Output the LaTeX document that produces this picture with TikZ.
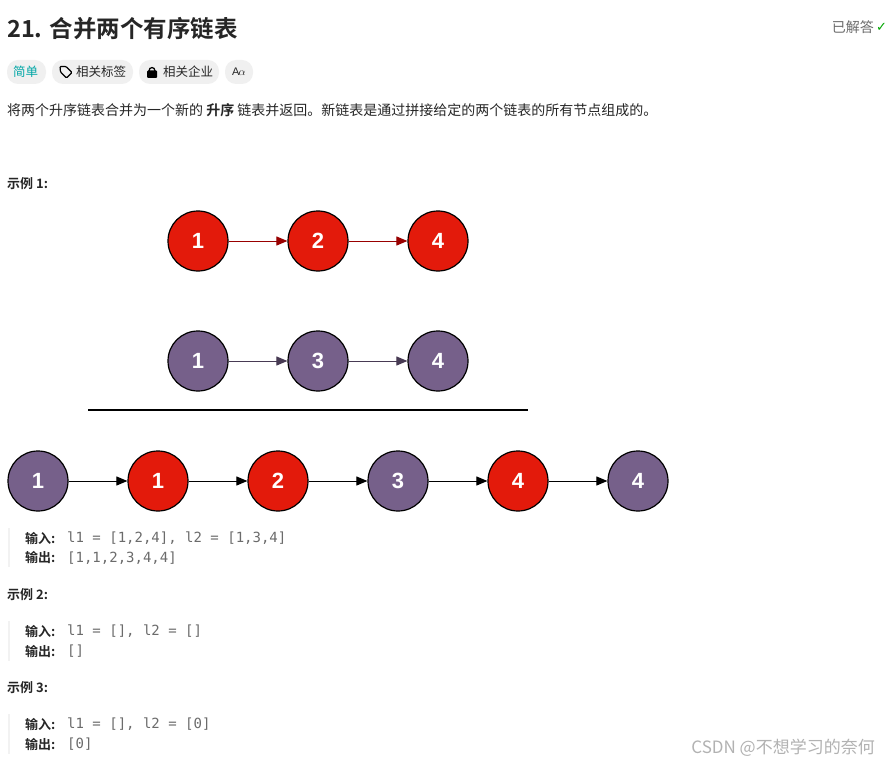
\documentclass[tikz,border=0pt]{standalone}
\usepackage{fontspec}
\setmainfont{Liberation Sans}
\newfontfamily\cjk{Noto Sans CJK SC}
\newfontfamily\cjkb{Noto Sans CJK SC Bold}
\setmonofont{DejaVu Sans Mono}
\newfontfamily\symf{DejaVu Sans}
\usetikzlibrary{arrows.meta}
\definecolor{lred}{HTML}{E31A0B}
\definecolor{lpur}{HTML}{76608A}
\definecolor{txt}{HTML}{262626}
\definecolor{codeg}{HTML}{6B6B6B}
\definecolor{pill}{HTML}{F0F0F0}
\tikzset{
 ln/.style={circle,draw=black,line width=1.2pt,minimum size=60pt,inner sep=0pt,font=\bfseries\fontsize{22}{22}\selectfont,text=white},
 rn/.style={ln,fill=lred},
 pn/.style={ln,fill=lpur},
 ar/.style={-{Triangle[length=11pt,width=9pt]},line width=1pt},
 tx/.style={anchor=west,inner sep=0pt,font=\cjk\fontsize{12.5}{14}\selectfont,text=txt},
 bt/.style={anchor=west,inner sep=0pt,font=\cjkb\fontsize{13}{14}\selectfont,text=txt},
 cd/.style={anchor=west,inner sep=0pt,font=\ttfamily\fontsize{14}{14}\selectfont,text=codeg},
 pl/.style={rounded corners=11pt,fill=pill,draw=none},
 bar/.style={draw=pill!80!black!20,line width=2.5pt}
}
\begin{document}
\begin{tikzpicture}[x=1pt,y=-1pt]
\useasboundingbox[fill=white] (0,0) rectangle (890,767);
\node[anchor=west,inner sep=0pt,font=\cjkb\fontsize{23.5}{24}\selectfont,text=txt] (title) at (7,29) {21. 合并两个有序链表};
\node[anchor=east,inner sep=0pt,font=\cjk\fontsize{14}{14}\selectfont,text=codeg] (solved) at (874,27) {已解答};
\node[anchor=west,inner sep=0pt,font=\symf\fontsize{13}{14}\selectfont,text=green!65!black] (chk) at (876,27) {✓};
% pills
\fill[pl] (7,60) rectangle (46,84);
\node[tx,text=teal!70!cyan] (p1) at (13,72) {简单};
\fill[pl] (52,60) rectangle (133,84);
\draw[line width=1.2pt,rounded corners=1pt] (60,66.5) -- (66,66.5) -- (72,72.5) -- (66.5,78) -- (60.5,72) -- cycle;
\node[tx] (p2) at (76,72) {相关标签};
\fill[pl] (139,60) rectangle (219,84);
\draw[line width=1.3pt] (149,71) arc (180:360:3 and 3.5);
\fill[rounded corners=1pt] (147,70.5) rectangle (157,78);
\node[tx] (p3) at (163,72) {相关企业};
\fill[pl] (225,60) rectangle (253,84);
\node[tx,font=\fontsize{11}{12}\selectfont] (p4) at (232,72) {A\kern-1pt$\alpha$};
\node[tx,font=\cjk\fontsize{14}{14}\selectfont] (desc) at (7,110) {将两个升序链表合并为一个新的 {\cjkb 升序} 链表并返回。新链表是通过拼接给定的两个链表的所有节点组成的。};
\node[bt] (ex1) at (7,184) {示例 1:};
% diagram
\node[rn] (a1) at (198,241) {1};
\node[rn] (a2) at (318,241) {2};
\node[rn] (a4) at (438,241) {4};
\draw[ar,draw=red!60!black,fill=red!60!black] (a1) -- (a2);
\draw[ar,draw=red!60!black,fill=red!60!black] (a2) -- (a4);
\node[pn] (b1) at (198,361) {1};
\node[pn] (b3) at (318,361) {3};
\node[pn] (b4) at (438,361) {4};
\draw[ar,draw=lpur!60!black] (b1) -- (b3);
\draw[ar,draw=lpur!60!black] (b3) -- (b4);
\coordinate (l0) at (88,410); \coordinate (l1) at (528,410);
\draw[line width=1.5pt] (l0) -- (l1);
\node[pn] (c1) at (38,481) {1};
\node[rn] (c2) at (158,481) {1};
\node[rn] (c3) at (278,481) {2};
\node[pn] (c4) at (398,481) {3};
\node[rn] (c5) at (518,481) {4};
\node[pn] (c6) at (638,481) {4};
\foreach \u/\v in {c1/c2,c2/c3,c3/c4,c4/c5,c5/c6}{\draw[ar] (\u) -- (\v);}
% examples
\coordinate (e1a) at (9,528); \coordinate (e1b) at (9,567);
\draw[bar] (e1a) -- (e1b);
\node[bt] (i1) at (25,538) {输入:};
\node[cd] (i1c) at (67,538) {l1 = [1,2,4], l2 = [1,3,4]};
\node[bt] (o1) at (25,558) {输出:};
\node[cd] (o1c) at (67,558) {[1,1,2,3,4,4]};
\node[bt] (ex2) at (7,595) {示例 2:};
\coordinate (e2a) at (9,621); \coordinate (e2b) at (9,661);
\draw[bar] (e2a) -- (e2b);
\node[bt] (i2) at (25,631) {输入:};
\node[cd] (i2c) at (67,631) {l1 = [], l2 = []};
\node[bt] (o2) at (25,651) {输出:};
\node[cd] (o2c) at (67,651) {[]};
\node[bt] (ex3) at (7,688) {示例 3:};
\coordinate (e3a) at (9,714); \coordinate (e3b) at (9,754);
\draw[bar] (e3a) -- (e3b);
\node[bt] (i3) at (25,724) {输入:};
\node[cd] (i3c) at (67,724) {l1 = [], l2 = [0]};
\node[bt] (o3) at (25,744) {输出:};
\node[cd] (o3c) at (67,744) {[0]};
\node[anchor=east,inner sep=0pt,font=\cjk\fontsize{17}{18}\selectfont,text=gray!60] (wm) at (875,748) {CSDN @不想学习的奈何};
\end{tikzpicture}
\end{document}
